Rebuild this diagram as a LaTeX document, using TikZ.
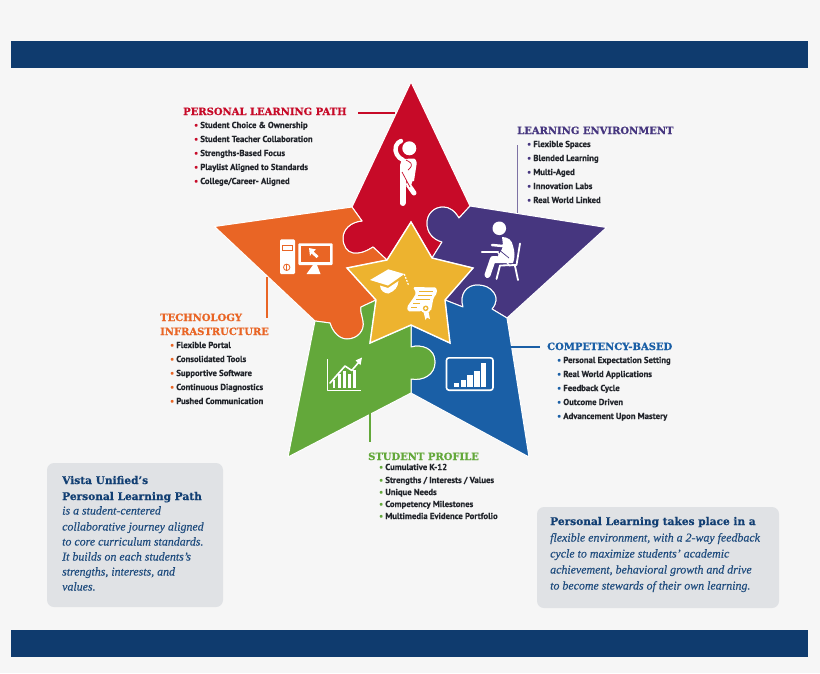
\documentclass[tikz,border=0pt]{standalone}
\usepackage{fontspec}
\setmainfont{Liberation Serif}[ItalicFeatures={FakeBold=0.25}]
\newfontfamily\headfont{DejaVu Serif}[BoldFont={DejaVu Serif Bold},BoldFeatures={FakeBold=0.6}]
\newfontfamily\listfont{PT Sans}[BoldFeatures={FakeBold=0.5}]
\definecolor{bgc}{HTML}{F6F6F6}
\definecolor{navy}{HTML}{0F3B6E}
\definecolor{boxc}{HTML}{E0E2E5}
\definecolor{redc}{HTML}{C70A28}
\definecolor{purc}{HTML}{46367F}
\definecolor{orac}{HTML}{E96525}
\definecolor{grec}{HTML}{63A83A}
\definecolor{bluc}{HTML}{1A5FA6}
\definecolor{yelc}{HTML}{EDB32F}
\definecolor{inkc}{HTML}{22252B}
\definecolor{txtc}{HTML}{1F4C7E}
\definecolor{hdtx}{HTML}{123F73}
\tikzset{
  piece/.style={fill=#1,draw=white,line width=1pt,line join=round},
  linkline/.style={color=#1,line width=1.1pt},
  headtext/.style={anchor=west,inner sep=0pt,text=#1,font=\headfont\bfseries\fontsize{10}{11}\selectfont,text height=7pt,text depth=0pt},
  itemtext/.style={anchor=west,inner sep=0pt,text=inkc,font=\listfont\bfseries\fontsize{8.7}{10}\selectfont,text height=6pt,text depth=2pt},
  notebox/.style={fill=boxc,rounded corners=7pt},
  noteline/.style={anchor=west,inner sep=0pt,text=txtc,font=\itshape\fontsize{11.9}{14}\selectfont,text height=8pt,text depth=3pt},
  notehead/.style={anchor=west,inner sep=0pt,text=hdtx,font=\headfont\bfseries\fontsize{10.6}{12}\selectfont,text height=8pt,text depth=2pt},
  icon/.style={fill=white,draw=none},
  iconline/.style={draw=white,line cap=round,line join=round,line width=#1},
}
\newcommand{\itemrow}[5]{\node[itemtext] (#1) at (#2,#3) {\textcolor{#4}{•}\hspace{2.2pt}#5};}
\begin{document}
\begin{tikzpicture}[x=1pt,y=-1pt]
\useasboundingbox (0,0) rectangle (820,673);
\fill[bgc] (0,0) rectangle (820,673);
\fill[navy] (11,41) rectangle (808,68);
\fill[navy] (11,630) rectangle (808,657);
% note boxes
\fill[notebox] (47,463) rectangle (223,607);
\fill[notebox] (537,507) rectangle (779,608);
% pieces
\path[piece=redc] (411,82) -- (470,206)
  -- (459,218) .. controls (454,210) and (449,207) .. (443,207) .. controls (434,207) and (427,214) .. (427,223) .. controls (427,232) and (432,239) .. (442,242) -- (432,258)
  -- (411,222) -- (387,260)
  -- (373,247) .. controls (365,252) and (359,254) .. (353,253) .. controls (347,252) and (343,246) .. (343,238) .. controls (343,230) and (350,222) .. (362,221) -- (352,207) -- cycle;
\path[piece=purc] (470,206)
  -- (459,218) .. controls (454,210) and (449,207) .. (443,207) .. controls (434,207) and (427,214) .. (427,223) .. controls (427,232) and (432,239) .. (442,242) -- (432,258)
  -- (473,268) -- (445,300)
  -- (463,307) .. controls (459,294) and (467,285) .. (477,285) .. controls (484,285) and (490,287) .. (494,293) .. controls (497,297) and (497,303) .. (492,309) -- (507,318)
  -- (606.5,227.5) -- cycle;
\path[piece=bluc] (445,300)
  -- (463,307) .. controls (459,294) and (467,285) .. (477,285) .. controls (484,285) and (490,287) .. (494,293) .. controls (497,297) and (497,303) .. (492,309) -- (507,318)
  -- (529,457) -- (411,393)
  -- (411,379) .. controls (423,381) and (435,375) .. (435,362) .. controls (435,348) and (421,344) .. (411,347) -- (411,325)
  -- (450,343) -- cycle;
\path[piece=orac] (352,207)
  -- (362,221) .. controls (350,222) and (343,230) .. (343,238) .. controls (343,246) and (347,252) .. (353,253) .. controls (359,254) and (365,252) .. (373,247) -- (387,260)
  -- (347,268) -- (376,300)
  -- (361,307) .. controls (360,311) and (362,315) .. (363,321) .. controls (365,330) and (358,339) .. (347,339) .. controls (340,339) and (333,333) .. (330,323) -- (315,321)
  -- (214.5,226.5) -- cycle;
\path[piece=grec] (315,321) -- (330,323)
  .. controls (333,333) and (340,339) .. (347,339) .. controls (358,339) and (365,330) .. (363,321) .. controls (362,315) and (360,311) .. (361,307) -- (376,300)
  -- (370,343) -- (411,325) -- (411,347)
  .. controls (421,344) and (435,348) .. (435,362) .. controls (435,375) and (423,381) .. (411,379) -- (411,393)
  -- (288,457) -- cycle;
\path[piece=yelc,line width=1.4pt,line join=miter] (411,222) -- (432,258) -- (473,268) -- (445,300) -- (450,343) -- (411,325) -- (370,343) -- (376,300) -- (347,268) -- (387,260) -- cycle;
% leaders
\coordinate (la) at (358,113); \coordinate (lb) at (395,113);
\draw[linkline=redc] (la) -- (lb);
\coordinate (lc) at (517.5,145); \coordinate (ld) at (517.5,213);
\draw[linkline=purc!70!white] (lc) -- (ld);
\coordinate (le) at (267,277); \coordinate (lf) at (267,318);
\draw[linkline=orac] (le) -- (lf);
\coordinate (lg) at (510,347); \coordinate (lh) at (540,347);
\draw[linkline=bluc] (lg) -- (lh);
\coordinate (li) at (370,413); \coordinate (lj) at (370,442);
\draw[linkline=grec] (li) -- (lj);
% headings
\node[headtext=redc] (h1) at (183,111.5) {PERSONAL LEARNING PATH};
\node[headtext=purc] (h2) at (517,130.5) {LEARNING ENVIRONMENT};
\node[headtext=orac] (h3a) at (160,317.5) {TECHNOLOGY};
\node[headtext=orac] (h3b) at (160,331.5) {INFRASTRUCTURE};
\node[headtext=bluc] (h4) at (547,346.5) {COMPETENCY-BASED};
\node[headtext=grec] (h5) at (368,456.5) {STUDENT PROFILE};
% lists
\itemrow{a1}{194}{126}{redc}{Student Choice \& Ownership}
\itemrow{a2}{194}{140}{redc}{Student Teacher Collaboration}
\itemrow{a3}{194}{154}{redc}{Strengths-Based Focus}
\itemrow{a4}{194}{168}{redc}{Playlist Aligned to Standards}
\itemrow{a5}{194}{182}{redc}{College/Career- Aligned}
\itemrow{b1}{527}{145}{purc}{Flexible Spaces}
\itemrow{b2}{527}{159}{purc}{Blended Learning}
\itemrow{b3}{527}{173}{purc}{Multi-Aged}
\itemrow{b4}{527}{187}{purc}{Innovation Labs}
\itemrow{b5}{527}{201}{purc}{Real World Linked}
\itemrow{c1}{170}{346}{orac}{Flexible Portal}
\itemrow{c2}{170}{360}{orac}{Consolidated Tools}
\itemrow{c3}{170}{374}{orac}{Supportive Software}
\itemrow{c4}{170}{388}{orac}{Continuous Diagnostics}
\itemrow{c5}{170}{402}{orac}{Pushed Communication}
\itemrow{d1}{557}{361}{bluc}{Personal Expectation Setting}
\itemrow{d2}{557}{375}{bluc}{Real World Applications}
\itemrow{d3}{557}{389}{bluc}{Feedback Cycle}
\itemrow{d4}{557}{403}{bluc}{Outcome Driven}
\itemrow{d5}{557}{417}{bluc}{Advancement Upon Mastery}
\itemrow{e1}{379}{468}{grec}{Cumulative K-12}
\itemrow{e2}{379}{481}{grec}{Strengths / Interests / Values}
\itemrow{e3}{379}{493}{grec}{Unique Needs}
\itemrow{e4}{379}{505}{grec}{Competency Milestones}
\itemrow{e5}{379}{517}{grec}{Multimedia Evidence Portfolio}
% notes
\node[notehead] (n1) at (62,481) {Vista Unified’s};
\node[notehead] (n2) at (62,497) {Personal Learning Path};
\node[noteline] (n3) at (62,512) {is a student-centered};
\node[noteline] (n4) at (62,528) {collaborative journey aligned};
\node[noteline] (n5) at (62,543) {to core curriculum standards.};
\node[noteline] (n6) at (62,558) {It builds on each students’s};
\node[noteline] (n7) at (62,573) {strengths, interests, and};
\node[noteline] (n8) at (62,588) {values.};
\node[notehead] (m1) at (550,522) {Personal Learning takes place in a};
\node[noteline] (m2) at (550,539) {flexible environment, with a 2-way feedback};
\node[noteline] (m3) at (550,555) {cycle to maximize students’ academic};
\node[noteline] (m4) at (550,571) {achievement, behavioral growth and drive};
\node[noteline] (m5) at (550,587) {to become stewards of their own learning.};
% icon: walking figure
\fill[icon] (409.3,148.3) circle (7);
\draw[iconline=4.4pt] (403,160) .. controls (398,158) and (394,152) .. (396,146) .. controls (397,143) and (399,142) .. (401,141);
\fill[icon] (402,159) -- (414,158.5) .. controls (417,160) and (417,163) .. (416,168) -- (414,181) -- (400,181) -- (400,165) -- cycle;
\draw[iconline=6pt] (402.5,178) -- (402.5,203);
\draw[iconline=5pt] (411,178) -- (408.5,185) -- (414,193);
\draw[draw=redc,line width=.7pt] (402,172) -- (410,187);
\draw[draw=redc,line width=.7pt] (406,160) .. controls (410,162) and (415,164) .. (408,170);
% icon: seated figure
\fill[icon] (499.3,228.3) circle (6.8);
\fill[icon] (502,237) .. controls (508,237) and (512,240) .. (513,246) .. controls (515,252) and (515,258) .. (513,263) -- (494,263) .. controls (497,256) and (503,250) .. (503,245) -- cycle;
\draw[iconline=6pt] (510,260) -- (493,259) -- (487.5,275);
\draw[iconline=2.5pt] (505,243) -- (503,246) -- (492,245);
\draw[iconline=2.4pt] (482,252) -- (498,252);
\draw[draw=purc,line width=.7pt] (498,249) -- (509,258);
\draw[iconline=1.3pt] (498,253) -- (510,266);
\draw[iconline=1.8pt] (520,243.5) -- (516.5,265) -- (500,265.5) -- (496.5,279);
\draw[iconline=1.8pt] (515,266) -- (518,280);
% icon: computer
\fill[icon,rounded corners=1.2pt] (280,239.3) rectangle (295,274);
\draw[orac,line width=.7pt] (282.5,245) rectangle (292,250);
\draw[orac,line width=.8pt] (286.7,267.3) circle (3.2);
\draw[orac,line width=.8pt] (286.7,264) -- (286.7,271);
\fill[icon,rounded corners=1pt] (298.3,243.3) rectangle (332.7,265);
\fill[orac] (300.7,245.7) rectangle (330,262.3);
\fill[icon] (309,248) -- (316,249.5) -- (313.5,251.5) -- (318.5,256) -- (316.5,258) -- (311.5,253.5) -- (310,256) -- cycle;
\fill[icon] (313,265) -- (317,265) -- (320.5,274) -- (306.5,274) -- cycle;
% icon: line graph
\draw[iconline=1.6pt,line cap=butt] (327.3,359) -- (327.3,390.5) -- (361,390.5);
\foreach \bx/\by in {334/380,339.3/374,344.3/371,349.3/374,354.3/370}
  \fill[icon] (\bx-1.2,\by) rectangle (\bx+1.2,388);
\draw[iconline=1.6pt] (330,383) -- (345,366) -- (351.7,370.5) -- (359,362);
\fill[icon] (362,357.5) -- (360.5,365) -- (355.5,360.5) -- cycle;
% icon: bar chart
\draw[white,line width=1.6pt,rounded corners=2.5pt] (446.5,357.8) rectangle (493,390.2);
\foreach \bx/\by in {454/383.3,460.7/380,467.3/375,474.3/370.7,481/363.3}
  \fill[icon] (\bx,\by) rectangle (\bx+5.2,387);
% icon: cap
\fill[icon] (370,280) -- (388.3,269.3) -- (404.3,274) -- (388,285.5) -- cycle;
\fill[icon] (380,285.5) -- (388,288) -- (398.5,281) .. controls (398,287) and (395,291) .. (388.5,293.5) .. controls (385,293.5) and (380,291) .. (380,285.5) -- cycle;
\draw[white,line width=1.2pt,dash pattern=on 1.8pt off 1.4pt] (404.3,274) -- (408.5,285);
% icon: diploma
\fill[icon,rounded corners=1.5pt] (413,287) -- (436.5,287.5) -- (437,293) -- (433.5,298) -- (431,311) -- (408,311.5) -- (407,307) -- (414,297) -- (416,293) -- cycle;
\foreach \ya/\xa/\xb in {291/419/433,295/418/432,299/416/430,303/413/420,307/411/417}
  \draw[yelc,line width=.9pt] (\xa,\ya) -- (\xb,\ya);
\fill[icon] (425.7,308.3) circle (5);
\fill[yelc] (425.7,308.3) circle (2.8);
\fill[icon] (425.7,308.3) circle (1.4);
\fill[icon] (423.5,312) -- (428.5,312) -- (430,319) -- (427,317.5) -- (425.5,320) -- cycle;
\end{tikzpicture}
\end{document}
